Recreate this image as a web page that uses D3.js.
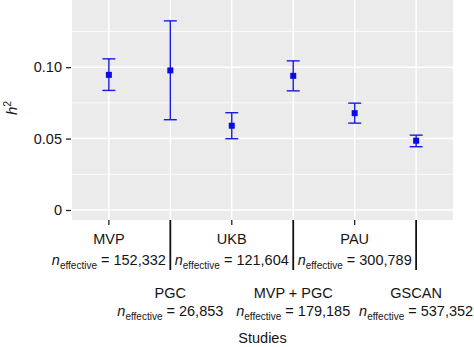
<!DOCTYPE html>
<html><head><meta charset="utf-8">
<script src="https://cdn.jsdelivr.net/npm/d3@7"></script>
<style>html,body{margin:0;padding:0;background:#fff;}svg{display:block;font-family:"Liberation Sans",Arial,Helvetica,sans-serif;}</style>
</head><body>
<svg id="c" width="474" height="347"></svg>
<script>
const studies = ["MVP","PGC","UKB","MVP + PGC","PAU","GSCAN"];
const nEffective = ["152,332","26,853","121,604","179,185","300,789","537,352"];
const h2 = [0.0946,0.0977,0.0590,0.0939,0.0678,0.0485];
const lower = [0.0837,0.0632,0.0499,0.0834,0.0608,0.0443];
const upper = [0.1058,0.1324,0.0681,0.1044,0.0748,0.0524];
const yTicks = [0,0.05,0.10];
const yTickLabels = ["0","0.05","0.10"];
const yMinor = [0.025,0.075,0.125];

const svg = d3.select("#c");
const L=72, R=453, T=0, B=220;
const x = d3.scalePoint().domain(studies).range([L,R]).padding(0.6);
const y = d3.scaleLinear().domain([-0.007,0.147]).range([B,T]);
const blue = "#1a1ae0";
const ink = "#151515";

svg.append("rect").attr("x",L).attr("y",T).attr("width",R-L).attr("height",B-T).attr("fill","#ebebeb");
svg.selectAll(".minor").data(yMinor).enter().append("line")
  .attr("x1",L).attr("x2",R).attr("y1",d=>y(d)).attr("y2",d=>y(d)).attr("stroke","#fff").attr("stroke-width",0.8);
svg.selectAll(".major").data(yTicks).enter().append("line")
  .attr("x1",L).attr("x2",R).attr("y1",d=>y(d)).attr("y2",d=>y(d)).attr("stroke","#fff").attr("stroke-width",1.5);
svg.selectAll(".vg").data(studies).enter().append("line")
  .attr("x1",d=>x(d)).attr("x2",d=>x(d)).attr("y1",T).attr("y2",B).attr("stroke","#fff").attr("stroke-width",1.5);

// y axis
const yAxis = d3.axisLeft(y).tickValues(yTicks).tickFormat((d,i)=>yTickLabels[i]).tickSize(5).tickPadding(4);
const ya = svg.append("g").attr("transform",`translate(${L-1},0)`).call(yAxis);
ya.select(".domain").remove();
ya.selectAll(".tick line").attr("stroke","#222").attr("stroke-width",1.3);
ya.selectAll(".tick text").attr("fill",ink).style("font-size","14.5px").style("font-family","'Liberation Sans',Arial,sans-serif");

// y title
const yt = svg.append("text").attr("transform","translate(17,108) rotate(-90)").attr("text-anchor","middle").attr("fill",ink).style("font-size","15px");
yt.append("tspan").text("h").style("font-style","italic");
yt.append("tspan").text("2").attr("dy",-6).style("font-size","10.5px");

// x ticks
const xAxis = d3.axisBottom(x).tickSize(0).tickFormat("");
const xa = svg.append("g").attr("transform",`translate(0,${B})`).call(xAxis);
xa.select(".domain").remove();
studies.forEach((s,i)=>{
  const long = i%2===1;
  svg.append("line").attr("x1",x(s)).attr("x2",x(s)).attr("y1",B).attr("y2",long?270:225)
    .attr("stroke",long?"#111":"#222").attr("stroke-width",long?1.8:1.3);
  const b1 = long?298:244, b2 = long?316:264.5;
  svg.append("text").attr("x",x(s)).attr("y",b1).attr("text-anchor","middle").attr("fill",ink).style("font-size","14.5px").text(s);
  const t = svg.append("text").attr("x",x(s)).attr("y",b2).attr("text-anchor","middle").attr("fill",ink).style("font-size","14.5px");
  t.append("tspan").text("n").style("font-style","italic");
  t.append("tspan").text("effective").attr("dy",4).style("font-size","10px");
  t.append("tspan").text(" = "+nEffective[i]).attr("dy",-4);
});
svg.append("text").attr("x",(L+R)/2).attr("y",343).attr("text-anchor","middle").attr("fill",ink).style("font-size","14.5px").text("Studies");

// error bars
const g = svg.append("g");
studies.forEach((s,i)=>{
  const cx = x(s);
  g.append("line").attr("x1",cx).attr("x2",cx).attr("y1",y(lower[i])).attr("y2",y(upper[i])).attr("stroke",blue).attr("stroke-width",1.4);
  [lower[i],upper[i]].forEach(v=>g.append("line").attr("x1",cx-6.5).attr("x2",cx+6.5).attr("y1",y(v)).attr("y2",y(v)).attr("stroke",blue).attr("stroke-width",1.4));
  g.append("rect").attr("x",cx-3).attr("y",y(h2[i])-3).attr("width",6).attr("height",6).attr("fill","#0a0ae6");
});
</script>
</body></html>
